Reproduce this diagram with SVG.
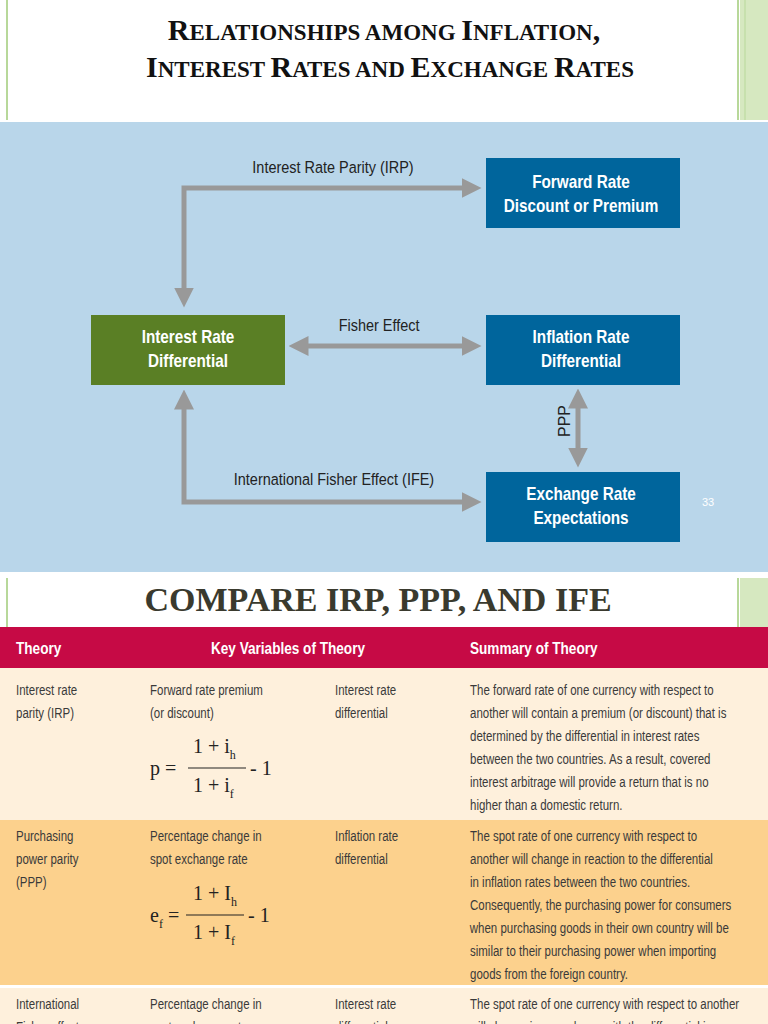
<svg xmlns="http://www.w3.org/2000/svg" width="768" height="1024" viewBox="0 0 768 1024">
<style>
.t{font-family:"Liberation Serif",serif;font-weight:bold;fill:#111}
.lbl{font-family:"Liberation Sans",sans-serif;font-size:17px;fill:#222;transform-box:fill-box;transform-origin:center;transform:scaleX(.85)}
.nd{font-family:"Liberation Sans",sans-serif;font-size:18px;font-weight:bold;fill:#fff;text-anchor:middle;transform-box:fill-box;transform-origin:center;transform:scaleX(.85)}
.c{font-family:"Liberation Sans",sans-serif;font-size:14px;fill:#3a3a3a;transform-box:fill-box;transform-origin:left;transform:scaleX(.82)}
.h{font-family:"Liberation Sans",sans-serif;font-size:16px;font-weight:bold;fill:#fff;transform-box:fill-box;transform-origin:left;transform:scaleX(.85)}
.m{font-family:"Liberation Serif",serif;font-size:20px;fill:#222}
.s{font-family:"Liberation Serif",serif;font-size:12px;fill:#222}
.ln{stroke:#999;stroke-width:5;fill:none}
</style>
<defs><marker id="ah" markerWidth="4" markerHeight="4" refX="2.5" refY="2" orient="auto-start-reverse" markerUnits="strokeWidth"><path d="M0,0 L4,2 L0,4 z" fill="#999"/></marker></defs>
<rect width="768" height="1024" fill="#fff"/>
<g id="frame">
<rect x="740" y="0" width="28" height="120" fill="#d6e8c0"/>
<line x1="7" y1="0" x2="7" y2="120" stroke="#b8d89a" stroke-width="2"/>
<line x1="738" y1="0" x2="738" y2="120" stroke="#b8d89a" stroke-width="2"/>
<line x1="745" y1="0" x2="745" y2="120" stroke="#b8d89a" stroke-width="1"/>
<rect x="740" y="578" width="28" height="50" fill="#d6e8c0"/>
<line x1="7" y1="578" x2="7" y2="628" stroke="#b8d89a" stroke-width="2"/>
<line x1="738" y1="578" x2="738" y2="628" stroke="#b8d89a" stroke-width="2"/>
</g>
<text class="t" x="384" y="40" text-anchor="middle" font-size="30">R<tspan font-size="23">ELATIONSHIPS AMONG </tspan>I<tspan font-size="23">NFLATION</tspan>,</text>
<text class="t" x="390" y="77" text-anchor="middle" font-size="30">I<tspan font-size="23">NTEREST </tspan>R<tspan font-size="23">ATES AND </tspan>E<tspan font-size="23">XCHANGE </tspan>R<tspan font-size="23">ATES</tspan></text>
<rect x="0" y="122" width="768" height="450" fill="#b9d6ea"/>
<g id="connectors">
<path class="ln" d="M184,300 V188 H474" marker-start="url(#ah)" marker-end="url(#ah)"/>
<path class="ln" d="M296,346 H474" marker-start="url(#ah)" marker-end="url(#ah)"/>
<path class="ln" d="M184,397 V502 H474" marker-start="url(#ah)" marker-end="url(#ah)"/>
<path class="ln" d="M578,396 V460" marker-start="url(#ah)" marker-end="url(#ah)"/>
<text class="lbl" x="333" y="173" text-anchor="middle">Interest Rate Parity (IRP)</text>
<text class="lbl" x="379" y="331" text-anchor="middle">Fisher Effect</text>
<text class="lbl" x="334" y="485" text-anchor="middle">International Fisher Effect (IFE)</text>
<text x="570" y="421" font-family="Liberation Sans,sans-serif" font-size="16" fill="#222" text-anchor="middle" transform="rotate(-90 570 421)">PPP</text>
</g>
<g id="n-forward"><rect x="486" y="158" width="194" height="70" fill="#00659c"/>
<text class="nd" x="581" y="188">Forward Rate</text><text class="nd" x="581" y="212">Discount or Premium</text></g>
<g id="n-ird"><rect x="91" y="315" width="194" height="70" fill="#5a7f25"/>
<text class="nd" x="188" y="343">Interest Rate</text><text class="nd" x="188" y="367">Differential</text></g>
<g id="n-infl"><rect x="486" y="315" width="194" height="70" fill="#00659c"/>
<text class="nd" x="581" y="343">Inflation Rate</text><text class="nd" x="581" y="367">Differential</text></g>
<g id="n-exch"><rect x="486" y="472" width="194" height="70" fill="#00659c"/>
<text class="nd" x="581" y="500">Exchange Rate</text><text class="nd" x="581" y="524">Expectations</text></g>
<text x="708" y="506" font-family="Liberation Sans,sans-serif" font-size="11" fill="#fff" text-anchor="middle">33</text>
<text x="378" y="611" font-family="Liberation Serif,serif" font-size="34" font-weight="bold" fill="#3a3a2e" text-anchor="middle">COMPARE IRP, PPP, AND IFE</text>
<rect x="0" y="627" width="768" height="41" fill="#c60a45"/>
<text class="h" x="16" y="654">Theory</text><text class="h" x="211" y="654">Key Variables of Theory</text><text class="h" x="470" y="654">Summary of Theory</text>
<rect x="0" y="668" width="768" height="152" fill="#fef0dc"/>
<rect x="0" y="820" width="768" height="165" fill="#fcd18d"/>
<rect x="0" y="988" width="768" height="36" fill="#fef0dc"/>
<g>
<text class="c" x="16" y="695">Interest rate</text><text class="c" x="16" y="718">parity (IRP)</text>
<text class="c" x="150" y="695">Forward rate premium</text><text class="c" x="150" y="718">(or discount)</text>
<text class="c" x="335" y="695">Interest rate</text><text class="c" x="335" y="718">differential</text>
<text class="c" x="470" y="695">The forward rate of one currency with respect to</text>
<text class="c" x="470" y="718">another will contain a premium (or discount) that is</text>
<text class="c" x="470" y="741">determined by the differential in interest rates</text>
<text class="c" x="470" y="764">between the two countries. As a result, covered</text>
<text class="c" x="470" y="787">interest arbitrage will provide a return that is no</text>
<text class="c" x="470" y="810">higher than a domestic return.</text>
<text class="c" x="16" y="841">Purchasing</text><text class="c" x="16" y="864">power parity</text><text class="c" x="16" y="887">(PPP)</text>
<text class="c" x="150" y="841">Percentage change in</text><text class="c" x="150" y="864">spot exchange rate</text>
<text class="c" x="335" y="841">Inflation rate</text><text class="c" x="335" y="864">differential</text>
<text class="c" x="470" y="841">The spot rate of one currency with respect to</text>
<text class="c" x="470" y="864">another will change in reaction to the differential</text>
<text class="c" x="470" y="887">in inflation rates between the two countries.</text>
<text class="c" x="470" y="910">Consequently, the purchasing power for consumers</text>
<text class="c" x="470" y="933">when purchasing goods in their own country will be</text>
<text class="c" x="470" y="956">similar to their purchasing power when importing</text>
<text class="c" x="470" y="979">goods from the foreign country.</text>
<text class="c" x="16" y="1009">International</text><text class="c" x="16" y="1032">Fisher effect</text>
<text class="c" x="150" y="1009">Percentage change in</text><text class="c" x="150" y="1032">spot exchange rate</text>
<text class="c" x="335" y="1009">Interest rate</text><text class="c" x="335" y="1032">differential</text>
<text class="c" x="470" y="1009">The spot rate of one currency with respect to another</text>
<text class="c" x="470" y="1032">will change in accordance with the differential in</text>
</g>
<text class="m" x="193" y="753">1 + i<tspan class="s" dy="6">h</tspan></text>
<text class="m" x="150" y="775">p =</text><line x1="188" y1="768" x2="246" y2="768" stroke="#222" stroke-width="1.2"/><text class="m" x="250" y="775">- 1</text>
<text class="m" x="193" y="792">1 + i<tspan class="s" dy="6">f</tspan></text>
<text class="m" x="193" y="900">1 + I<tspan class="s" dy="6">h</tspan></text>
<text class="m" x="150" y="922">e<tspan class="s" dy="6">f</tspan><tspan dy="-6"> =</tspan></text><line x1="186" y1="915" x2="244" y2="915" stroke="#222" stroke-width="1.2"/><text class="m" x="248" y="922">- 1</text>
<text class="m" x="193" y="939">1 + I<tspan class="s" dy="6">f</tspan></text>
</svg>
